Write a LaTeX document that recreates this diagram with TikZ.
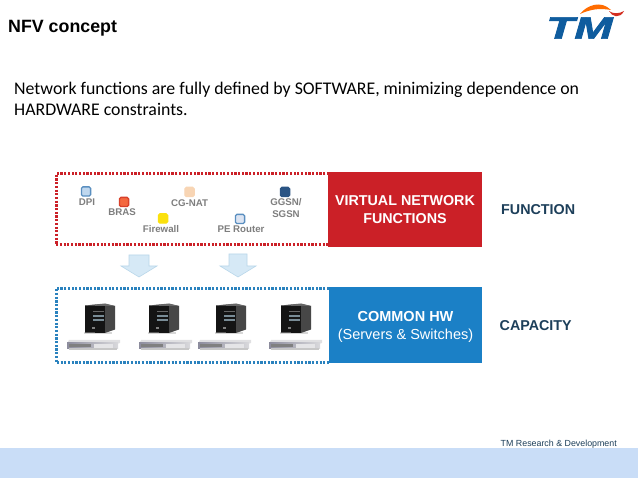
\documentclass[tikz,border=0pt]{standalone}
\usepackage{fontspec}
\setmainfont{Liberation Sans}
\newfontfamily\bodyfont{Carlito}
\newfontfamily\logofont{Liberation Sans}[BoldItalicFeatures={FakeBold=2}]
\usetikzlibrary{shadings}
\definecolor{bandblue}{HTML}{C9DDF7}
\definecolor{tmred}{HTML}{CB2027}
\definecolor{tmblue}{HTML}{1B80C6}
\definecolor{dotblue}{HTML}{2A82BE}
\definecolor{darkteal}{HTML}{1D3F5A}
\definecolor{logoblue}{HTML}{0F5C9E}
\definecolor{lblgray}{HTML}{7E7E7E}
\definecolor{arrowfill}{HTML}{D6E9F6}
\definecolor{arrowline}{HTML}{B9D7EA}
\definecolor{chipline}{HTML}{5A8FC0}
\definecolor{C1fill}{HTML}{BFD7EE}
\definecolor{C2fill}{HTML}{F4683F}
\definecolor{C2line}{HTML}{D8412B}
\definecolor{C3fill}{HTML}{F8D5B4}
\definecolor{C4fill}{HTML}{FBE10E}
\definecolor{C5fill}{HTML}{DCE4F2}
\definecolor{C6fill}{HTML}{2A5484}
\tikzset{
  x=1pt,y=-1pt,
  funclabel/.style={font=\fontsize{9.7}{11.5}\selectfont\bfseries,text=lblgray,inner sep=0pt,align=center},
  chip/.style={rounded corners=1.5pt,line width=1.3pt,minimum size=9.2pt,inner sep=0pt},
  block/.style={inner sep=0pt,align=center,text=white},
  sidelabel/.style={font=\fontsize{14.3}{16}\selectfont\bfseries,text=darkteal,inner sep=0pt},
  downarrow/.style={fill=arrowfill,draw=arrowline,line width=.6pt},
  dotbox/.style={line width=3pt,dash pattern=on 2.2pt off 1.5pt},
  pics/tower/.style={code={
    \fill[black!22,opacity=.7] (-16,13.5) rectangle (12,15.5);
    \fill[black!92] (-15,-13) -- (5,-14.5) -- (5,14.5) -- (-15,14) -- cycle;
    \fill[black!72] (5,-14.5) -- (15,-12.5) -- (15,11) -- (5,14.5) -- cycle;
    \fill[black!60] (-15,-13) -- (5,-15) -- (15,-12.5) -- (5,-12.5) -- cycle;
    \fill[black!60] (-7,-7.5) rectangle (4,-6);
    \fill[black!40!cyan!35!gray] (-7,-3.5) rectangle (4,-1.5);
    \fill[black!40!cyan!35!gray] (-7,0.5) rectangle (4,2.5);
    \fill[black!50] (-8,9) rectangle (-5,11);
  }},
  pics/switch/.style={code={
    \fill[blue!6!black!12] (2,0) -- (53,0) -- (53,3) -- (50,4) -- (0,4) -- cycle;
    \shade[left color=blue!15!black!45,right color=blue!8!black!15] (0,3) rectangle (51,8.5);
    \fill[black!50] (2,4.5) rectangle (24,7.5);
    \fill[blue!4!black!10] (27,4) rectangle (46,8);
    \fill[black!22] (2,8.5) rectangle (50,10);
  }}
}
\begin{document}
\begin{tikzpicture}
\useasboundingbox (0,0) rectangle (638,478);
\fill[white] (0,0) rectangle (638,478);
\fill[bandblue] (0,448) rectangle (638,478);
\node[anchor=west,inner sep=0pt,font=\fontsize{17.8}{20}\selectfont\bfseries] (title) at (8,28.5) {NFV concept};
\node[anchor=north west,inner sep=0pt,font=\bodyfont\fontsize{17.8}{21.4}\selectfont,align=left] (body) at (14,81.5)
  {Network functions are fully defined by SOFTWARE, minimizing dependence on\\HARDWARE constraints.};
\node[anchor=east,inner sep=0pt,font=\fontsize{8.85}{11}\selectfont,text=darkteal] (foot) at (617,444) {TM Research \& Development};
% logo
\node[anchor=center,inner sep=0pt,font=\logofont\fontsize{31}{31}\selectfont\bfseries\itshape,text=logoblue,xscale=1.48] (logo) at (579.5,28) {TM};
\fill[orange!85!red] (580,14) .. controls (587,5) and (601,0) .. (611,10) .. controls (600,8) and (591,9) .. (580,14) -- cycle;
\fill[tmred!85!orange] (609,11) .. controls (613,14) and (619,14) .. (624,11) .. controls (620,19) and (612,17) .. (609,11) -- cycle;
% red group
\draw[dotbox,tmred] (329,174) -- (56,174) -- (56,245) -- (329,245);
\node[block,fill=tmred,minimum width=154pt,minimum height=75pt,font=\fontsize{14.3}{17.2}\selectfont\bfseries] (vnf) at (405,209.5) {VIRTUAL NETWORK\\FUNCTIONS};
\node[sidelabel,anchor=west] (fn) at (501,209.5) {FUNCTION};
% chips
\node[chip,draw=chipline,fill=C1fill] (c1) at (86,191.5) {};
\node[chip,draw=C2line,fill=C2fill] (c2) at (124,202) {};
\node[chip,draw=C3fill,fill=C3fill] (c3) at (189.5,192) {};
\node[chip,draw=C4fill,fill=C4fill] (c4) at (163,218.5) {};
\node[chip,draw=chipline,fill=C5fill] (c5) at (240,219) {};
\node[chip,draw=C6fill,fill=C6fill] (c6) at (285,192) {};
\node[funclabel] (l1) at (87,202) {DPI};
\node[funclabel] (l2) at (122,212) {BRAS};
\node[funclabel] (l3) at (189.5,203) {CG-NAT};
\node[funclabel] (l4) at (161,229) {Firewall};
\node[funclabel] (l5) at (241,229) {PE Router};
\node[funclabel] (l6) at (286,208) {GGSN/\\SGSN};
% arrows
\draw[downarrow] (129,255) -- (149,255) -- (149,266) -- (157,266) -- (139,277) -- (121,266) -- (129,266) -- cycle;
\draw[downarrow] (229,254) -- (247,254) -- (247,266) -- (256,266) -- (238,277) -- (220,266) -- (229,266) -- cycle;
% blue group
\draw[dotbox,dotblue] (329,288.5) -- (56,288.5) -- (56,362.5) -- (329,362.5);
\node[block,fill=tmblue,minimum width=153pt,minimum height=76pt] (hw) at (405.5,325) {};
\node[block,font=\fontsize{14.5}{17.5}\selectfont] (hwt) at (405.5,327) {\textbf{COMMON HW}\\(Servers \& Switches)};
\node[sidelabel,anchor=west] (cp) at (499.5,326) {CAPACITY};
% servers
\pic at (100,318.5) {tower};
\pic at (164,318.5) {tower};
\pic at (231,318.5) {tower};
\pic at (296,318.5) {tower};
\pic at (67,340) {switch};
\pic at (139,340) {switch};
\pic at (198,340) {switch};
\pic at (269,340) {switch};
\end{tikzpicture}
\end{document}
